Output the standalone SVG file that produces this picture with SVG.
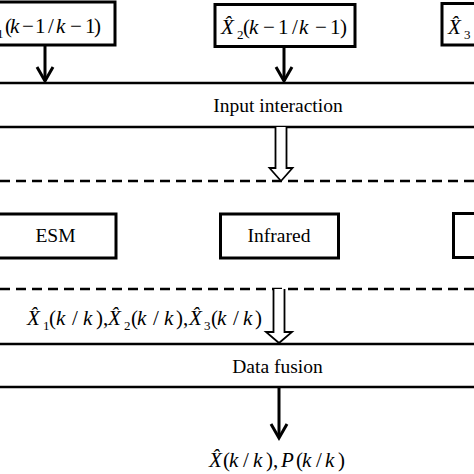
<svg xmlns="http://www.w3.org/2000/svg" width="474" height="474" viewBox="0 0 474 474">
<style>
  .box{fill:#fff;stroke:#000;stroke-width:3}
  .rule{stroke:#000;stroke-width:2.5;fill:none}
  .dash{stroke:#000;stroke-width:2.5;stroke-dasharray:10 6;fill:none}
  .arr{stroke:#000;stroke-width:3;fill:none}
  .hollow{fill:#fff;stroke:#000;stroke-width:1.8;stroke-linejoin:miter}
  .lbl{font-family:"Liberation Serif","Times New Roman",serif;font-size:19.5px;fill:#000;text-anchor:middle}
  .m{font-family:"Liberation Serif","Times New Roman",serif;font-size:21px;fill:#000}
  .i{font-style:italic}
  .s{font-size:13px}
</style>
<rect width="474" height="474" fill="#fff"/>

<g id="connectors">
  <line class="rule" x1="0" y1="83" x2="474" y2="83"/>
  <line class="rule" x1="0" y1="127" x2="474" y2="127"/>
  <line class="dash" x1="0" y1="181" x2="474" y2="181"/>
  <line class="dash" x1="0" y1="289" x2="474" y2="289"/>
  <line class="rule" x1="0" y1="344" x2="474" y2="344"/>
  <line class="rule" x1="0" y1="387" x2="474" y2="387"/>
  <line class="arr" x1="45" y1="46" x2="45" y2="81"/>
  <polyline class="arr" points="37,67 45,81 53,67"/>
  <line class="arr" x1="284" y1="47" x2="284" y2="81"/>
  <polyline class="arr" points="276,67 284,81 292,67"/>
  <path class="hollow" d="M275.5,127 V168 H269.5 L281,181 L292.5,168 H286.5 V127"/>
  <path class="hollow" d="M273.5,289 V332 H266 L279,343 L292,332 H284.5 V289"/>
  <line class="arr" x1="279" y1="387" x2="279" y2="437"/>
  <polyline class="arr" points="271,424 279,438 287,424"/>
</g>

<g id="node-x1">
  <rect class="box" x="-25" y="2" width="140" height="43"/>
  <text class="m" y="33"><tspan class="i" x="-18">X&#770;</tspan><tspan class="s" x="-3" dy="5">1</tspan><tspan x="5" dy="-5">(</tspan><tspan class="i" x="10">k</tspan><tspan x="22">−</tspan><tspan x="35">1</tspan><tspan x="48">/</tspan><tspan class="i" x="56">k</tspan><tspan x="70">−</tspan><tspan x="85">1</tspan><tspan x="94">)</tspan></text>
</g>

<g id="node-x2">
  <rect class="box" x="215" y="4.5" width="140" height="42"/>
  <text class="m" y="34"><tspan class="i" x="221">X&#770;</tspan><tspan class="s" x="237" dy="5">2</tspan><tspan x="243" dy="-5">(</tspan><tspan class="i" x="249">k</tspan><tspan x="263">−</tspan><tspan x="278">1</tspan><tspan x="292">/</tspan><tspan class="i" x="299">k</tspan><tspan x="315">−</tspan><tspan x="330">1</tspan><tspan x="340">)</tspan></text>
</g>

<g id="node-x3">
  <rect class="box" x="442" y="3.5" width="140" height="41.5"/>
  <text class="m" y="34"><tspan class="i" x="448">X&#770;</tspan><tspan class="s" x="464" dy="5">3</tspan></text>
</g>

<g id="node-input">
  <text class="lbl" x="278" y="112">Input interaction</text>
</g>

<g id="node-esm">
  <rect class="box" x="-5" y="214" width="121" height="44"/>
  <text class="lbl" x="55.5" y="242">ESM</text>
</g>

<g id="node-infrared">
  <rect class="box" x="220.5" y="214" width="118" height="44"/>
  <text class="lbl" x="279" y="242">Infrared</text>
</g>

<g id="node-sensor3">
  <rect class="box" x="453.5" y="213.5" width="118" height="44"/>
</g>

<g id="label-estimates">
  <text class="m" y="325"><tspan class="i" x="27">X&#770;</tspan><tspan class="s" x="43" dy="5">1</tspan><tspan x="49" dy="-5">(</tspan><tspan class="i" x="56">k</tspan><tspan x="72">/</tspan><tspan class="i" x="83">k</tspan><tspan x="96">),</tspan><tspan class="i" x="108">X&#770;</tspan><tspan class="s" x="124" dy="5">2</tspan><tspan x="131" dy="-5">(</tspan><tspan class="i" x="137">k</tspan><tspan x="153">/</tspan><tspan class="i" x="164">k</tspan><tspan x="176">),</tspan><tspan class="i" x="189">X&#770;</tspan><tspan class="s" x="204" dy="5">3</tspan><tspan x="211" dy="-5">(</tspan><tspan class="i" x="217">k</tspan><tspan x="233">/</tspan><tspan class="i" x="243">k</tspan><tspan x="255">)</tspan></text>
</g>

<g id="node-fusion">
  <text class="lbl" x="277.5" y="373">Data fusion</text>
</g>

<g id="label-output">
  <text class="m" y="467"><tspan class="i" x="209">X&#770;</tspan><tspan x="223">(</tspan><tspan class="i" x="229">k</tspan><tspan x="243">/</tspan><tspan class="i" x="253">k</tspan><tspan x="266">),</tspan><tspan class="i" x="281">P</tspan><tspan x="296">(</tspan><tspan class="i" x="302">k</tspan><tspan x="316">/</tspan><tspan class="i" x="325">k</tspan><tspan x="338">)</tspan></text>
</g>
</svg>
